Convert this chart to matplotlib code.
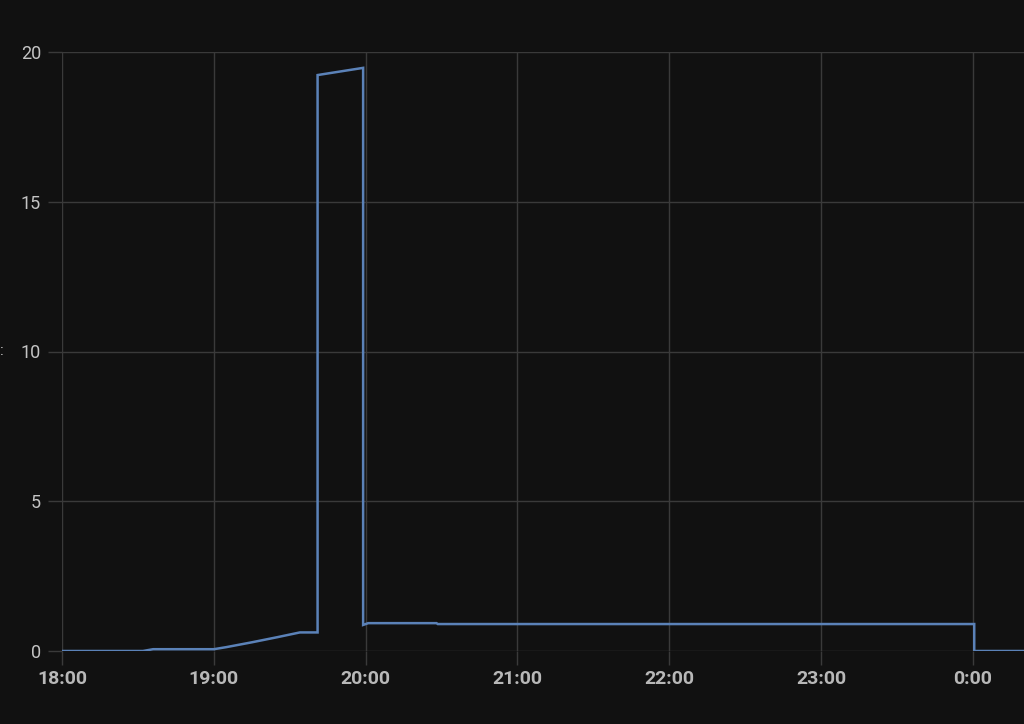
import matplotlib
matplotlib.use('Agg')
import matplotlib.pyplot as plt
import matplotlib.dates as mdates
from matplotlib.ticker import FuncFormatter
import pandas as pd

# energy readings over the evening
times = [
    '2024-01-01 18:00:00', '2024-01-01 18:32:00', '2024-01-01 18:36:00',
    '2024-01-01 19:00:00', '2024-01-01 19:05:00', '2024-01-01 19:15:00',
    '2024-01-01 19:25:00', '2024-01-01 19:34:00', '2024-01-01 19:41:00',
    '2024-01-01 19:41:00', '2024-01-01 19:59:00', '2024-01-01 19:59:00',
    '2024-01-01 20:01:00', '2024-01-01 20:28:00', '2024-01-01 20:28:30',
    '2024-01-02 00:00:30', '2024-01-02 00:00:30', '2024-01-02 00:21:00',
]
values = [
    0.0, 0.0, 0.06,
    0.06, 0.13, 0.29,
    0.46, 0.62, 0.62,
    19.23, 19.47, 0.87,
    0.93, 0.93, 0.90,
    0.90, 0.0, 0.0,
]
y_ticks = [0, 5, 10, 15, 20]

bg = '#111111'
grid_col = '#3a3a3a'
text_col = '#c4c4c4'
line_col = '#5b82b8'

plt.rcParams['font.family'] = ['Roboto', 'DejaVu Sans']

def main():
    x = pd.to_datetime(times)
    fig = plt.figure(figsize=(10.24, 7.24), dpi=100, facecolor=bg)
    ax = fig.add_axes([62 / 1024, 73 / 724, 1 - 62 / 1024, (651 - 52) / 724])
    ax.set_facecolor(bg)

    ax.plot(x, values, color=line_col, linewidth=1.8, solid_joinstyle='miter')

    ax.set_ylim(0, 20)
    ax.set_xlim(pd.Timestamp('2024-01-01 18:00:00'), pd.Timestamp('2024-01-02 00:20:10'))
    ax.set_yticks(y_ticks)
    ax.xaxis.set_major_locator(mdates.HourLocator())
    ax.xaxis.set_major_formatter(FuncFormatter(
        lambda v, p: '{}:{:02d}'.format(mdates.num2date(v).hour, mdates.num2date(v).minute)))

    ax.grid(True, color=grid_col, linewidth=1.0)
    ax.set_axisbelow(True)
    for s in ax.spines.values():
        s.set_visible(False)
    ax.tick_params(axis='both', colors=grid_col, length=10, width=1.0,
                   labelcolor=text_col, labelsize=13)
    ax.tick_params(axis='y', pad=5)
    ax.tick_params(axis='x', pad=4, labelsize=14)
    for lab in ax.get_xticklabels():
        lab.set_fontweight('bold')
        lab.set_color('#b8b8b8')

    fig.text(0.0, 0.515, ':', color=text_col, fontsize=11, ha='left', va='center')

    fig.savefig('out.png', facecolor=bg)

if __name__ == '__main__':
    main()
